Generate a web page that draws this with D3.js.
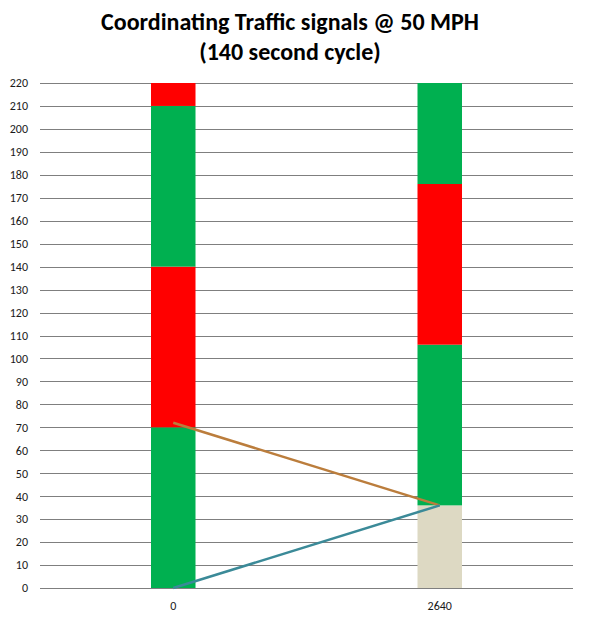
<!DOCTYPE html>
<html lang="en">
<head>
<meta charset="UTF-8">
<title>Coordinating Traffic signals</title>
<script src="https://cdn.jsdelivr.net/npm/d3@7/dist/d3.min.js"></script>
<style>
  body { margin: 0; background: #fff; }
  .tick text { font-family: Carlito, Lato, "Open Sans", sans-serif; }
</style>
</head>
<body>
<div id="chart"></div>
<script>
  // distance along the road (ft) for each signal
  var categories = ["0", "2640"];
  var yTicks = d3.range(0, 221, 10);

  // stacked signal phases (seconds), bottom to top
  var phaseValues = [
    [70, 70, 70, 10],
    [36, 70, 70, 44]
  ];
  var phaseStates = [
    ["green", "red", "green", "red"],
    ["offset", "green", "red", "green"]
  ];

  // vehicle trajectories: time at each signal
  var frontEdge = [0, 36];
  var backEdge = [72, 36];

  var colors = { green: "#00b050", red: "#ff0000", offset: "#ddd9c3" };

  var w = 599, h = 630;
  var plotLeft = 40, plotRight = 573, plotTop = 83, plotBottom = 588;

  var svg = d3.select("#chart").append("svg")
    .attr("width", w)
    .attr("height", h);

  var xScale = d3.scaleBand()
    .domain(categories)
    .range([plotLeft, plotRight])
    .padding(0);

  var yScale = d3.scaleLinear()
    .domain([0, 220])
    .range([plotBottom, plotTop]);

  var barW = xScale.bandwidth() * 0.167;

  // gridlines
  svg.append("g")
    .selectAll("line")
    .data(yTicks)
    .enter().append("line")
    .attr("x1", plotLeft)
    .attr("x2", plotRight)
    .attr("y1", d => Math.round(yScale(d)) + 0.5)
    .attr("y2", d => Math.round(yScale(d)) + 0.5)
    .attr("stroke", "#7f7f7f")
    .attr("stroke-width", 1);

  // stacked bars
  categories.forEach(function (cat, i) {
    var base = 0;
    var segs = phaseValues[i].map(function (v, j) {
      var s = { y0: base, y1: base + v, state: phaseStates[i][j] };
      base += v;
      return s;
    });
    svg.append("g").selectAll("rect")
      .data(segs)
      .enter().append("rect")
      .attr("x", xScale(cat) + xScale.bandwidth() / 2 - barW / 2)
      .attr("width", barW)
      .attr("y", d => yScale(d.y1))
      .attr("height", d => yScale(d.y0) - yScale(d.y1))
      .attr("fill", d => colors[d.state]);
  });

  var line = d3.line()
    .x((d, i) => xScale(categories[i]) + xScale.bandwidth() / 2)
    .y(d => yScale(d));

  svg.append("path")
    .datum(backEdge)
    .attr("d", line)
    .attr("fill", "none")
    .attr("stroke", "#bb7d3c")
    .attr("stroke-width", 2.5);

  svg.append("path")
    .datum(frontEdge)
    .attr("d", line)
    .attr("fill", "none")
    .attr("stroke", "#3b8a98")
    .attr("stroke-width", 2.5);

  // axes
  var yAxis = d3.axisLeft(yScale).tickValues(yTicks).tickSize(0).tickPadding(0);
  svg.append("g")
    .attr("class", "y axis")
    .attr("transform", "translate(28,0)")
    .call(yAxis)
    .call(g => g.select(".domain").remove())
    .selectAll("text")
    .attr("font-size", "12px")
    .attr("fill", "#1a1a1a");

  var xAxis = d3.axisBottom(xScale).tickSize(0).tickPadding(0);
  svg.append("g")
    .attr("class", "x axis")
    .attr("transform", "translate(0,601)")
    .call(xAxis)
    .call(g => g.select(".domain").remove())
    .selectAll("text")
    .attr("font-size", "12px")
    .attr("fill", "#1a1a1a");

  // title
  var title = svg.append("text")
    .attr("text-anchor", "middle")
    .attr("font-family", "Carlito, Lato, 'Open Sans', sans-serif")
    .attr("font-weight", "bold")
    .attr("font-size", "24px")
    .attr("fill", "#000");
  title.append("tspan").attr("x", 290).attr("y", 30).text("Coordinating Traffic signals @ 50 MPH");
  title.append("tspan").attr("x", 290).attr("y", 60).text("(140 second cycle)");
</script>
</body>
</html>
